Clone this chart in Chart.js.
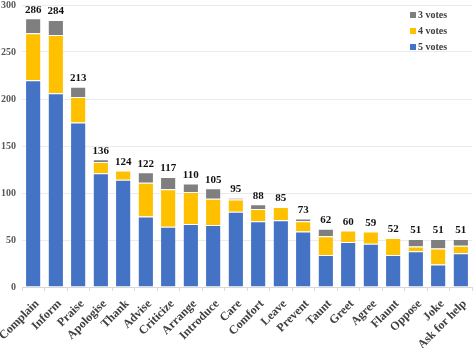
<!DOCTYPE html>
<html>
<head>
<meta charset="utf-8">
<script src="https://cdn.jsdelivr.net/npm/chart.js@4"></script>
<style>
  html, body { margin: 0; padding: 0; background: #fff; }
  #wrap { width: 474px; height: 348px; }
</style>
</head>
<body>
<div id="wrap"><canvas id="votes"></canvas></div>
<script>
  const categories = ['Complain', 'Inform', 'Praise', 'Apologise', 'Thank', 'Advise', 'Criticize', 'Arrange',
    'Introduce', 'Care', 'Comfort', 'Leave', 'Prevent', 'Taunt', 'Greet', 'Agree', 'Flaunt', 'Oppose', 'Joke', 'Ask for help'];
  const fiveVotes  = [220, 206, 175, 121, 114, 75, 64, 67, 66, 80, 70, 71, 59, 34, 48, 46, 34, 38, 24, 36];
  const fourVotes  = [50, 62, 27, 12, 10, 36, 40, 34, 28, 13, 13, 14, 11, 20, 12, 13, 18, 5, 17, 8];
  const threeVotes = [16, 16, 11, 3, 0, 11, 13, 9, 11, 2, 5, 0, 3, 8, 0, 0, 0, 8, 10, 7];
  const totals     = [286, 284, 213, 136, 124, 122, 117, 110, 105, 95, 88, 85, 73, 62, 60, 59, 52, 51, 51, 51];
  const yMax = 300;
  const yStep = 50;

  const serif = "'Liberation Serif', 'Times New Roman', serif";

  // totals above each stack + legend box in the top right corner
  const extras = {
    id: 'extras',
    afterDatasetsDraw(chart) {
      const { ctx, scales: { x, y } } = chart;
      ctx.save();
      ctx.font = 'bold 11px ' + serif;
      ctx.fillStyle = '#111';
      ctx.textAlign = 'center';
      ctx.textBaseline = 'bottom';
      totals.forEach((t, i) => {
        ctx.fillText(t, x.getPixelForValue(i), y.getPixelForValue(t) - 3);
      });

      // legend, reversed so top segment is listed first
      const items = chart.data.datasets.slice().reverse();
      ctx.font = 'bold 10px ' + serif;
      ctx.textAlign = 'left';
      ctx.textBaseline = 'middle';
      items.forEach((ds, i) => {
        const ly = 15 + i * 16;
        ctx.fillStyle = ds.backgroundColor;
        ctx.fillRect(410, ly - 3, 6, 6);
        ctx.fillStyle = '#404040';
        ctx.fillText(ds.label, 418, ly);
      });
      ctx.restore();
    }
  };

  const ctx = document.getElementById('votes').getContext('2d');
  new Chart(ctx, {
    type: 'bar',
    data: {
      labels: categories,
      datasets: [
        { label: '5 votes', data: fiveVotes, backgroundColor: '#4472C4' },
        { label: '4 votes', data: fourVotes, backgroundColor: '#FFC000' },
        { label: '3 votes', data: threeVotes, backgroundColor: '#7F7F7F' }
      ]
    },
    options: {
      responsive: true,
      maintainAspectRatio: false,
      animation: false,
      layout: { padding: { top: 5, right: 2, left: 0, bottom: 0 } },
      datasets: {
        bar: {
          categoryPercentage: 1,
          barPercentage: 0.64,
          borderColor: '#fff',
          borderWidth: { top: 1, right: 0, bottom: 0, left: 0 },
          borderSkipped: 'start'
        }
      },
      plugins: {
        legend: { display: false },
        tooltip: { enabled: false }
      },
      scales: {
        x: {
          stacked: true,
          grid: { display: true, drawOnChartArea: false, drawTicks: true, tickLength: 4, color: '#d9d9d9' },
          border: { display: true, color: '#d9d9d9' },
          ticks: {
            autoSkip: false,
            minRotation: 45,
            maxRotation: 45,
            padding: 6,
            labelOffset: 4,
            color: '#404040',
            font: { family: serif, size: 12, weight: 'bold' }
          },
          afterFit(scale) {
            scale.height = 61;
            scale.paddingLeft = 0;
            scale.paddingRight = 0;
          }
        },
        y: {
          stacked: true,
          min: 0,
          max: yMax,
          grid: { color: '#ebebeb', drawTicks: false },
          border: { display: false },
          ticks: {
            stepSize: yStep,
            padding: 6,
            color: '#595959',
            font: { family: serif, size: 10, weight: 'bold' }
          },
          afterFit(scale) {
            scale.width = 22;
            scale.paddingTop = 0;
            scale.paddingBottom = 0;
          }
        }
      }
    },
    plugins: [extras]
  });
</script>
</body>
</html>
